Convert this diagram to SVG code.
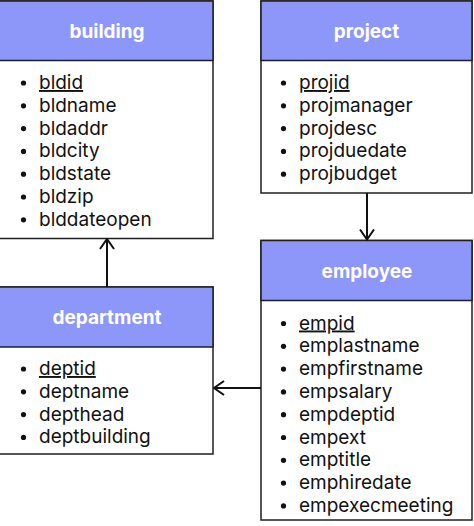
<svg xmlns="http://www.w3.org/2000/svg" width="474" height="526" viewBox="0 0 474 526">
<defs>
<style>
.box{fill:#ffffff;stroke:#1f1f1f;stroke-width:1.5}
.hdr{fill:#8d97f9;stroke:#1f1f1f;stroke-width:1.5}
.title{font-family:Inter,"Liberation Sans",sans-serif;font-weight:700;font-size:19px;fill:#ffffff;text-anchor:middle}
.item{font-family:Inter,"Liberation Sans",sans-serif;font-size:19px;fill:#111111}
.pk{text-decoration:underline}
.dot{fill:#111111}
.conn{stroke:#111111;stroke-width:2;fill:none}
</style>
<marker id="arr" viewBox="0 0 12 16" refX="11" refY="8" markerWidth="12" markerHeight="16" markerUnits="userSpaceOnUse" orient="auto">
<path d="M1,1 L11,8 L1,15" fill="none" stroke="#111111" stroke-width="2"/>
</marker>
</defs>
<rect width="474" height="526" fill="#ffffff"/>

<g id="building">
<rect class="box" x="-1" y="1" width="214" height="237.5"/>
<rect class="hdr" x="-1" y="1" width="214" height="59.5"/>
<text class="title" x="107" y="37.5">building</text>
<g class="dots"><circle class="dot" cx="23.5" cy="83" r="2.6"/><circle class="dot" cx="23.5" cy="105.8" r="2.6"/><circle class="dot" cx="23.5" cy="128.6" r="2.6"/><circle class="dot" cx="23.5" cy="151.4" r="2.6"/><circle class="dot" cx="23.5" cy="174.2" r="2.6"/><circle class="dot" cx="23.5" cy="197" r="2.6"/><circle class="dot" cx="23.5" cy="219.8" r="2.6"/></g>
<text class="item pk" x="39" y="89">bldid</text>
<text class="item" x="39" y="111.8">bldname</text>
<text class="item" x="39" y="134.6">bldaddr</text>
<text class="item" x="39" y="157.4">bldcity</text>
<text class="item" x="39" y="180.2">bldstate</text>
<text class="item" x="39" y="203">bldzip</text>
<text class="item" x="39" y="225.8">blddateopen</text>
</g>

<g id="project">
<rect class="box" x="261" y="1" width="211" height="192"/>
<rect class="hdr" x="261" y="1" width="211" height="59.5"/>
<text class="title" x="366.5" y="37.5">project</text>
<circle class="dot" cx="283.5" cy="83" r="2.6"/><circle class="dot" cx="283.5" cy="105.8" r="2.6"/><circle class="dot" cx="283.5" cy="128.6" r="2.6"/><circle class="dot" cx="283.5" cy="151.4" r="2.6"/><circle class="dot" cx="283.5" cy="174.2" r="2.6"/>
<text class="item pk" x="299" y="89">projid</text>
<text class="item" x="299" y="111.8">projmanager</text>
<text class="item" x="299" y="134.6">projdesc</text>
<text class="item" x="299" y="157.4">projduedate</text>
<text class="item" x="299" y="180.2">projbudget</text>
</g>

<g id="employee">
<rect class="box" x="261" y="240.5" width="211" height="279.5"/>
<rect class="hdr" x="261" y="240.5" width="211" height="60"/>
<text class="title" x="367" y="277.5">employee</text>
<circle class="dot" cx="283.5" cy="323.5" r="2.6"/><circle class="dot" cx="283.5" cy="346.3" r="2.6"/><circle class="dot" cx="283.5" cy="369.1" r="2.6"/><circle class="dot" cx="283.5" cy="391.9" r="2.6"/><circle class="dot" cx="283.5" cy="414.7" r="2.6"/><circle class="dot" cx="283.5" cy="437.5" r="2.6"/><circle class="dot" cx="283.5" cy="460.3" r="2.6"/><circle class="dot" cx="283.5" cy="483.1" r="2.6"/><circle class="dot" cx="283.5" cy="505.9" r="2.6"/>
<text class="item pk" x="299" y="329.5">empid</text>
<text class="item" x="299" y="352.3">emplastname</text>
<text class="item" x="299" y="375.1">empfirstname</text>
<text class="item" x="299" y="397.9">empsalary</text>
<text class="item" x="299" y="420.7">empdeptid</text>
<text class="item" x="299" y="443.5">empext</text>
<text class="item" x="299" y="466.3">emptitle</text>
<text class="item" x="299" y="489.1">emphiredate</text>
<text class="item" x="299" y="511.9">empexecmeeting</text>
</g>

<g id="department">
<rect class="box" x="-1" y="287" width="214" height="167"/>
<rect class="hdr" x="-1" y="287" width="214" height="60"/>
<text class="title" x="107" y="323.5">department</text>
<circle class="dot" cx="23.5" cy="369" r="2.6"/><circle class="dot" cx="23.5" cy="391.8" r="2.6"/><circle class="dot" cx="23.5" cy="414.6" r="2.6"/><circle class="dot" cx="23.5" cy="437.4" r="2.6"/>
<text class="item pk" x="39" y="375">deptid</text>
<text class="item" x="39" y="397.8">deptname</text>
<text class="item" x="39" y="420.6">depthead</text>
<text class="item" x="39" y="443.4">deptbuilding</text>
</g>

<g id="connectors">
<line class="conn" x1="367" y1="193" x2="367" y2="239.5" marker-end="url(#arr)"/>
<line class="conn" x1="107" y1="287" x2="107" y2="239" marker-end="url(#arr)"/>
<line class="conn" x1="261" y1="388" x2="214" y2="388" marker-end="url(#arr)"/>
</g>
</svg>
